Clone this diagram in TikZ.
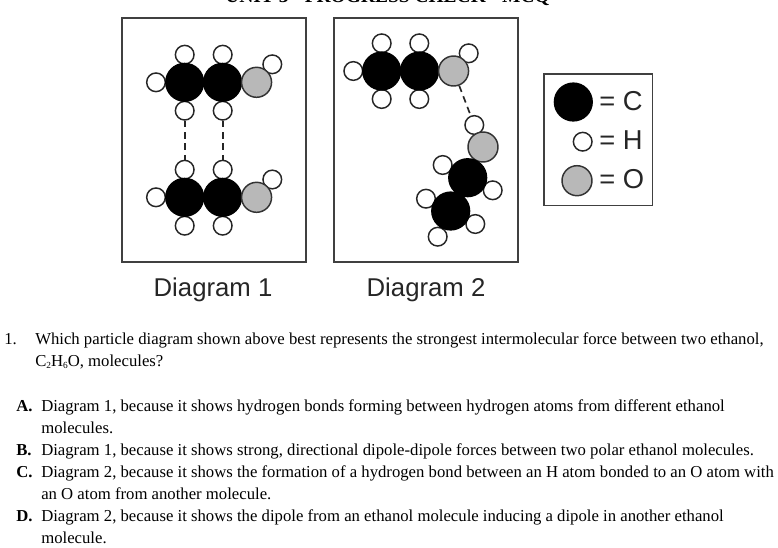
\documentclass[tikz,border=0pt]{standalone}
\usepackage{fontspec}
\setmainfont{Liberation Serif}
\setsansfont{Liberation Sans}
\usetikzlibrary{positioning}
\tikzset{
  carbon/.style={circle,draw=black,fill=black,line width=0.9pt,minimum size=28.5pt,inner sep=0pt},
  hydrogen/.style={circle,draw=black!85,fill=white,line width=1.1pt,minimum size=14pt,inner sep=0pt},
  oxygen/.style={circle,draw=black!80,fill=black!28,line width=1.1pt,minimum size=22.5pt,inner sep=0pt},
  framebox/.style={rectangle,draw=black!75,line width=1.1pt,inner sep=0pt},
  caption/.style={font=\sffamily\fontsize{19.3}{20}\selectfont,text=black!85,inner sep=0pt,anchor=base},
  legendtext/.style={font=\sffamily\fontsize{20.5}{21}\selectfont,text=black!85,inner sep=0pt,anchor=base west},
  bodytext/.style={font=\fontsize{12.53}{16}\selectfont,inner sep=0pt,anchor=base west},
  choice/.style={font=\bfseries\fontsize{12.53}{16}\selectfont,inner sep=0pt,anchor=base west},
  hbond/.style={draw=black!85,line width=1.25pt,dash pattern=on 5pt off 3.5pt}
}
\begin{document}
\begin{tikzpicture}[x=0.75pt,y=-0.75pt]
        \useasboundingbox (0,0) rectangle (778,547);
        \node[font=\bfseries\fontsize{14.6}{18}\selectfont,inner sep=0pt,anchor=base] (title) at (387.5,2) {UNIT 3 - PROGRESS CHECK - MCQ};

        \node[framebox,minimum width=138pt,minimum height=183pt] (D1) at (214.2,140) {};
        \node[framebox,minimum width=138pt,minimum height=183pt] (D2) at (426.2,140) {};
        \node[framebox,minimum width=81.5pt,minimum height=98.5pt] (K) at (598.3,139.7) {};

        % diagram 1, upper molecule
        \node[hydrogen] (H1) at (184.7,54.7) {};
        \node[hydrogen] (H2) at (222.7,54.7) {};
        \node[hydrogen] (H3) at (184.7,110.7) {};
        \node[hydrogen] (H4) at (222.7,110.7) {};
        \node[hydrogen] (H5) at (156,82.3) {};
        \node[hydrogen] (H6) at (272.3,64.3) {};
        \node[carbon] (C1) at (184.7,82.3) {};
        \node[carbon] (C2) [right=-1pt of C1] {};
        \node[oxygen] (O1) [right=-1pt of C2] {};

        % diagram 1, lower molecule
        \node[hydrogen] (H7) at (184.7,169.7) {};
        \node[hydrogen] (H8) at (222.7,169.7) {};
        \node[hydrogen] (H9) at (184.7,225.7) {};
        \node[hydrogen] (H10) at (222.7,225.7) {};
        \node[hydrogen] (H11) at (156,197.3) {};
        \node[hydrogen] (H12) at (272.3,179.5) {};
        \node[carbon] (C3) at (184.7,197.3) {};
        \node[carbon] (C4) [right=-1pt of C3] {};
        \node[oxygen] (O2) [right=-1pt of C4] {};

        % diagram 2, upper molecule
        \node[hydrogen] (H13) at (381.7,43.3) {};
        \node[hydrogen] (H14) at (419.3,43.3) {};
        \node[hydrogen] (H15) at (381.7,99) {};
        \node[hydrogen] (H16) at (419.3,99) {};
        \node[hydrogen] (H17) at (353.3,71) {};
        \node[hydrogen] (H18) at (468.7,53.3) {};
        \node[carbon] (C5) at (381.7,71) {};
        \node[carbon] (C6) [right=-1pt of C5] {};
        \node[oxygen] (O3) [right=-1pt of C6] {};

        % diagram 2, lower molecule
        \node[hydrogen] (H19) at (474.3,125) {};
        \node[oxygen] (O4) at (483,147) {};
        \node[hydrogen] (H20) at (442.7,165) {};
        \node[hydrogen] (H21) at (492.7,190.3) {};
        \node[hydrogen] (H22) at (426,198.7) {};
        \node[hydrogen] (H23) at (475.3,224) {};
        \node[hydrogen] (H24) at (437.7,236.7) {};
        \node[carbon] (C7) at (467.7,177.7) {};
        \node[carbon] (C8) at (450.7,211) {};

        \path [hbond] (H3) edge (H7)
        (H4) edge (H8)
        (O3) edge (H19);

        % key
        \node[carbon] (KC) at (573.3,102) {};
        \node[hydrogen] (KH) at (582.7,141.7) {};
        \node[oxygen] (KO) at (577,180.7) {};
        \node[legendtext] (KCt) at (599,110) {= C};
        \node[legendtext] (KHt) at (599,149) {= H};
        \node[legendtext] (KOt) at (599,188.5) {= O};

        \node[caption] (L1) at (213,296) {Diagram 1};
        \node[caption] (L2) at (426,296) {Diagram 2};

        % question
        \node[bodytext] (n1) at (4,344) {1.};
        \node[bodytext] (q1) at (35,344) {Which particle diagram shown above best represents the strongest intermolecular force between two ethanol,};
        \node[bodytext] (q2) at (35,366) {C{\fontsize{7}{8}\selectfont\raisebox{-1.5pt}{2}}H{\fontsize{7}{8}\selectfont\raisebox{-1.5pt}{6}}O, molecules?};

        \node[choice] (a) at (16,411) {A.};
        \node[bodytext] (a1) at (41,411) {Diagram 1, because it shows hydrogen bonds forming between hydrogen atoms from different ethanol};
        \node[bodytext] (a2) at (41,433) {molecules.};
        \node[choice] (b) at (16,455) {B.};
        \node[bodytext] (b1) at (41,455) {Diagram 1, because it shows strong, directional dipole-dipole forces between two polar ethanol molecules.};
        \node[choice] (c) at (16,477) {C.};
        \node[bodytext] (c1) at (41,477) {Diagram 2, because it shows the formation of a hydrogen bond between an H atom bonded to an O atom with};
        \node[bodytext] (c2) at (41,499) {an O atom from another molecule.};
        \node[choice] (d) at (16,521) {D.};
        \node[bodytext] (d1) at (41,521) {Diagram 2, because it shows the dipole from an ethanol molecule inducing a dipole in another ethanol};
        \node[bodytext] (d2) at (41,543) {molecule.};
\end{tikzpicture}
\end{document}
